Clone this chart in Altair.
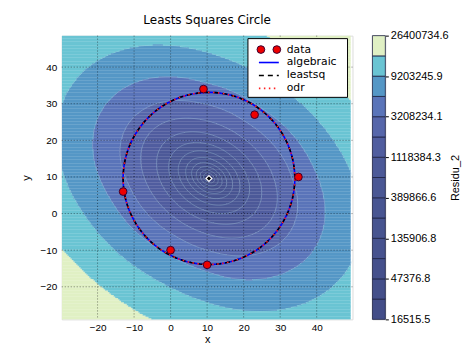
import altair as alt
import numpy as np
import pandas as pd

# ---- data ----
pts_x = [9, 35, -13, 10, 23, 0]
pts_y = [34, 10, 6, -14, 27, -10]

# fitted circle (center / radius)
center_x = [10.5]
center_y = [9.6]
radius = 23.5

# colorbar labels (every other contour level)
cbar_labels = ["16515.5", "47376.8", "135906.8", "389866.6",
               "1118384.3", "3208234.1", "9203245.9", "26400734.6"]
level_min = 16515.5
level_max = 26400734.6
n_levels = 15

band_colors = ["#434d88", "#444f8a", "#45508c", "#46528e", "#475490",
               "#485592", "#4a5794", "#4c5998", "#505d9f", "#5666aa",
               "#5a74b9", "#5597c6", "#6ac4d3", "#e0f0c4"]

tick_vals = [-20, -10, 0, 10, 20, 30, 40]
x_domain = [-29.8, 49.8]
y_domain = [-28.9, 48.6]

legend_labels = ["data", "algebraic", "leastsq", "odr"]

FONT = "DejaVu Sans"
W, H = 292, 285

# ---- residual field (Residu_2) from the data points ----
levels = np.geomspace(level_min, level_max, n_levels)
px = np.array(pts_x, dtype=float)
py = np.array(pts_y, dtype=float)


def residu2(X, Y):
    Ri = np.sqrt((X[..., None] - px) ** 2 + (Y[..., None] - py) ** 2)
    Rm = Ri.mean(axis=-1, keepdims=True)
    return ((Ri ** 2 - Rm ** 2) ** 2).sum(axis=-1)


nx, ny = 200, 200
gx_edges = np.linspace(-29.8, 49.3, nx + 1)
gy_edges = np.linspace(-29.8, 49.8, ny + 1)
gxc = (gx_edges[:-1] + gx_edges[1:]) / 2
gyc = (gy_edges[:-1] + gy_edges[1:]) / 2
GX, GY = np.meshgrid(gxc, gyc)
res = residu2(GX, GY)
band = np.clip(np.searchsorted(levels, res) - 1, 0, n_levels - 2)

rows = []
dx = gx_edges[1] - gx_edges[0]
dy = gy_edges[1] - gy_edges[0]
for j in range(ny):
    start = 0
    for i in range(1, nx + 1):
        if i == nx or band[j, i] != band[j, start]:
            rows.append(dict(x=gx_edges[start],
                             x2=gx_edges[i] + (0.2 * dx if i < nx else 0),
                             y=gy_edges[j], y2=gy_edges[j + 1] + 0.2 * dy,
                             band=int(band[j, start])))
            start = i
field = pd.DataFrame(rows)

# contour lines: level crossings along rays from the field minimum
jmin, imin = np.unravel_index(np.argmin(res), res.shape)
ox, oy = gxc[imin], gyc[jmin]
angles = np.linspace(0, 2 * np.pi, 361)
rs = np.arange(0, 130, 0.1)
AX = ox + rs[None, :] * np.cos(angles)[:, None]
AY = oy + rs[None, :] * np.sin(angles)[:, None]
RR = residu2(AX, AY)
crow = []
for k in range(1, n_levels - 1):
    lv = levels[k]
    for a_i, ang in enumerate(angles):
        vals = RR[a_i]
        idx = np.argmax(vals > lv)
        if vals[idx] <= lv:
            r = 130.0
        elif idx == 0:
            r = 0.0
        else:
            v0, v1 = vals[idx - 1], vals[idx]
            r = rs[idx - 1] + (lv - v0) / (v1 - v0) * (rs[idx] - rs[idx - 1])
        crow.append(dict(lev=k, t=a_i, lx=ox + r * np.cos(ang), ly=oy + r * np.sin(ang)))
clines = pd.DataFrame(crow)

color_scale = alt.Scale(domain=list(range(n_levels - 1)), range=band_colors)

xs = alt.Scale(domain=x_domain, nice=False, zero=False)
ys = alt.Scale(domain=y_domain, nice=False, zero=False)

contour = alt.Chart(field).mark_rect(clip=True).encode(
    x=alt.X("x:Q", scale=xs, title="x",
            axis=alt.Axis(values=tick_vals, grid=False, ticks=False, labelPadding=3,
                          titlePadding=1, domain=False, titleFontWeight="normal")),
    x2="x2:Q",
    y=alt.Y("y:Q", scale=ys, title="y",
            axis=alt.Axis(values=tick_vals, grid=False, ticks=False, labelPadding=5,
                          titlePadding=8, titleAngle=270, domain=False,
                          titleFontWeight="normal")),
    y2="y2:Q",
    color=alt.Color("band:O", scale=color_scale, legend=None),
)

contour_lines = alt.Chart(clines).mark_line(
    color="#add8e6", strokeWidth=0.7, opacity=0.45, clip=True).encode(
    x=alt.X("lx:Q", scale=xs), y=alt.Y("ly:Q", scale=ys),
    detail="lev:N", order="t:Q")

grid_df = pd.DataFrame({"v": tick_vals})
vgrid = alt.Chart(grid_df).mark_rule(color="black", strokeDash=[1, 2], strokeWidth=0.7,
                                     opacity=0.7).encode(x=alt.X("v:Q", scale=xs))
hgrid = alt.Chart(grid_df).mark_rule(color="black", strokeDash=[1, 2], strokeWidth=0.7,
                                     opacity=0.7).encode(y=alt.Y("v:Q", scale=ys))

theta = np.linspace(0, 2 * np.pi, 241)
circ = pd.DataFrame({"t": np.arange(len(theta)),
                     "cx": center_x[0] + radius * np.cos(theta),
                     "cy": center_y[0] + radius * np.sin(theta)})
enc = dict(x=alt.X("cx:Q", scale=xs), y=alt.Y("cy:Q", scale=ys), order="t:Q")
alg = alt.Chart(circ).mark_line(color="#0000ff", strokeWidth=1.6, clip=True).encode(**enc)
lsq = alt.Chart(circ).mark_line(color="black", strokeWidth=1.6, strokeDash=[5, 4], clip=True).encode(**enc)
odr = alt.Chart(circ).mark_line(color="#ff2020", strokeWidth=1.6, strokeDash=[1.5, 3.5], clip=True).encode(**enc)

pts = alt.Chart(pd.DataFrame({"px": pts_x, "py": pts_y})).mark_point(
    shape="circle", filled=True, fill="#ee0000", stroke="#3a0030", strokeWidth=1,
    size=60, opacity=1).encode(x=alt.X("px:Q", scale=xs), y=alt.Y("py:Q", scale=ys))

ctr_df = pd.DataFrame({"cx": center_x, "cy": center_y})
ctr = alt.Chart(ctr_df).mark_point(shape="diamond", filled=True, fill="black",
                                   stroke="white", strokeWidth=1.2, size=35,
                                   opacity=1).encode(x=alt.X("cx:Q", scale=xs),
                                                     y=alt.Y("cy:Q", scale=ys))

# ---- legend box ----
lx0, lx1, ly0, ly1 = 187, 287, 3, 62
row_y = [14, 27, 40, 53]
leg_box = alt.Chart(ctr_df).mark_rect(fill="white", stroke="black", strokeWidth=1).encode(
    x=alt.value(lx0), x2=alt.value(lx1), y=alt.value(ly0), y2=alt.value(ly1))
leg_layers = [leg_box]
for sx in (200, 216):
    leg_layers.append(alt.Chart(ctr_df).mark_point(
        shape="circle", filled=True, fill="#ee0000", stroke="#3a0030", strokeWidth=1,
        size=60, opacity=1).encode(x=alt.value(sx), y=alt.value(row_y[0])))
leg_layers.append(alt.Chart(ctr_df).mark_rule(color="#0000ff", strokeWidth=1.6).encode(
    x=alt.value(198), x2=alt.value(218), y=alt.value(row_y[1])))
leg_layers.append(alt.Chart(ctr_df).mark_rule(color="black", strokeWidth=1.6, strokeDash=[5, 4]).encode(
    x=alt.value(198), x2=alt.value(218), y=alt.value(row_y[2])))
leg_layers.append(alt.Chart(ctr_df).mark_rule(color="#ff2020", strokeWidth=1.6, strokeDash=[1.5, 3.5]).encode(
    x=alt.value(198), x2=alt.value(218), y=alt.value(row_y[3])))
for lab, yy in zip(legend_labels, row_y):
    leg_layers.append(alt.Chart(ctr_df).mark_text(
        align="left", baseline="middle", fontSize=10.8, font=FONT, color="black").encode(
        x=alt.value(226), y=alt.value(yy), text=alt.value(lab)))

main = alt.layer(contour, contour_lines, vgrid, hgrid, alg, lsq, odr, pts, ctr,
                 *leg_layers).properties(
    width=W, height=H,
    title=alt.TitleParams("Leasts Squares Circle", font=FONT, fontSize=12,
                          fontWeight="normal", anchor="middle", offset=8, color="black"))

# ---- colorbar ----
cb = pd.DataFrame({"band": list(range(n_levels - 1)),
                   "b0": list(range(n_levels - 1)),
                   "b1": list(range(1, n_levels))})
label_expr = "[" + ",".join("'" + s + "'" for s in cbar_labels) + "][round(datum.value/2)]"
colorbar = alt.Chart(cb).mark_rect(stroke="#1c2040", strokeWidth=0.8).encode(
    x=alt.value(0), x2=alt.value(13),
    y=alt.Y("b0:Q", scale=alt.Scale(domain=[0, n_levels - 1], nice=False, zero=False),
            axis=alt.Axis(orient="right", values=list(range(0, n_levels, 2)),
                          labelExpr=label_expr, grid=False, domain=False,
                          tickSize=3, tickColor="black", labelPadding=2,
                          labelFontSize=11, title="Residu_2", titleAngle=270,
                          titleX=70, titleY=H / 2, titleAlign="center",
                          titleBaseline="middle", titleFontWeight="normal",
                          titleFontSize=11)),
    y2="b1:Q",
    color=alt.Color("band:O", scale=color_scale, legend=None),
).properties(width=13, height=H)

chart = alt.hconcat(main, colorbar, spacing=18).properties(
    padding={"left": 12, "top": 5, "right": 5, "bottom": 5}).configure_view(
    stroke="black", strokeWidth=1).configure_axis(
    labelFont=FONT, titleFont=FONT, labelFontSize=10.5, titleFontSize=11,
    labelColor="black", titleColor="black", titleFontWeight="normal").configure(
    background="white")

chart.save("out.html", embed_options={"renderer": "svg", "actions": False})
